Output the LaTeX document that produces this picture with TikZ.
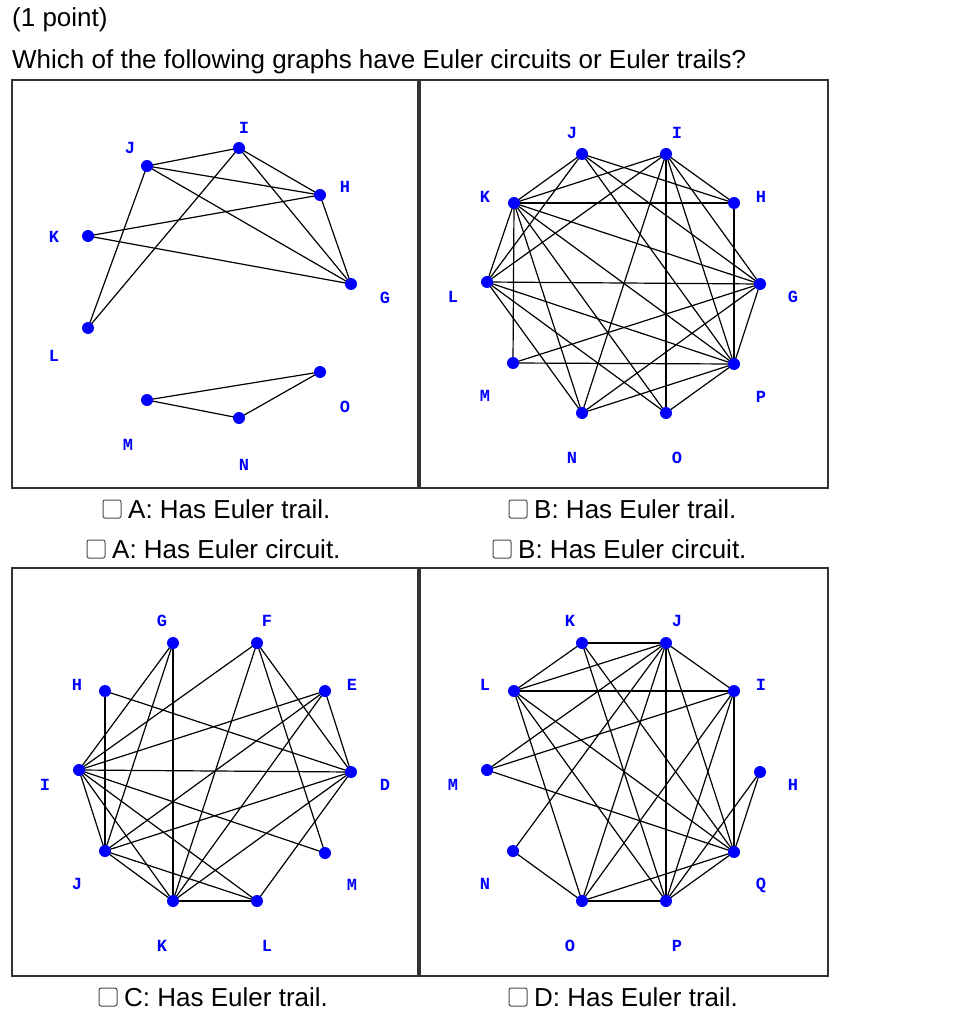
\documentclass[tikz,border=0pt]{standalone}
\usepackage{fontspec}
\setmainfont{Liberation Sans}
\newfontfamily\lblfont{Liberation Mono}
\def\dropfirst#1{}
\begin{document}
\begin{tikzpicture}[x=1pt,y=-1pt,
  vtx/.style={circle,fill=blue,inner sep=0pt,minimum size=12pt},
  lbl/.style={text=blue,font=\lblfont\bfseries\fontsize{17}{17}\selectfont,inner sep=0pt},
  edge/.style={line width=1.2pt,black},
  panel/.style={draw=black!80,line width=1.5pt},
  cbox/.style={draw=black!70,fill=white,rounded corners=2pt,minimum size=18pt,inner sep=0pt,line width=1pt},
  ctext/.style={anchor=west,font=\fontsize{26}{26}\selectfont,inner sep=0pt}]
\useasboundingbox (0,0) rectangle (963,1024);
\fill[white] (0,0) rectangle (963,1024);
\node[anchor=west,font=\fontsize{26}{26}\selectfont,inner sep=0pt] (t1) at (12,20) {(1 point)};
\node[anchor=west,font=\fontsize{26}{26}\selectfont,inner sep=0pt] (t2) at (12,62) {Which of the following graphs have Euler circuits or Euler trails?};
\draw[panel] (12,80) rectangle (418,488);
\draw[panel] (420,80) rectangle (828,488);
\draw[panel] (12,568) rectangle (418,976);
\draw[panel] (420,568) rectangle (828,976);
% Panel A
\foreach \n/\x/\y/\lx/\ly in {aI/239/148/244/128, aJ/147/166/130/148, aH/320/195/345/187, aK/88/236/54/237, aG/351/284/385/298, aL/88/328/54/356, aO/320/372/345/407, aM/147/400/128/445, aN/239/418/244/465}
  { \coordinate (\n) at (\x,\y); \node[lbl] (\n l) at (\lx,\ly) {\expandafter\dropfirst\n}; }
% Panel B
\foreach \n/\x/\y/\lx/\ly in {bJ/582/154/572/133, bI/666/154/677/133, bH/734/203/761/197, bG/760/284/793/297, bP/734/364/761/397, bO/666/413/677/458, bN/582/413/572/458, bM/513/363/485/396, bL/487/282/453/297, bK/514/203/485/197}
  { \coordinate (\n) at (\x,\y); \node[lbl] (\n l) at (\lx,\ly) {\expandafter\dropfirst\n}; }
% Panel C
\foreach \n/\x/\y/\lx/\ly in {cG/173/643/162/621, cF/257/643/267/621, cE/325/691/352/685, cD/351/772/385/785, cM/325/853/352/885, cL/257/901/267/946, cK/173/901/162/946, cJ/105/851/77/884, cI/79/770/45/785, cH/105/691/77/685}
  { \coordinate (\n) at (\x,\y); \node[lbl] (\n l) at (\lx,\ly) {\expandafter\dropfirst\n}; }
% Panel D
\foreach \n/\x/\y/\lx/\ly in {dK/582/643/570/621, dJ/666/643/677/621, dI/734/691/761/685, dH/760/772/793/785, dQ/734/852/761/885, dP/666/901/677/946, dO/582/901/570/946, dN/513/851/485/884, dM/487/770/453/785, dL/514/691/485/685}
  { \coordinate (\n) at (\x,\y); \node[lbl] (\n l) at (\lx,\ly) {\expandafter\dropfirst\n}; }
% edges
\foreach \a/\b in {J/I,J/H,J/G,J/L,I/H,I/G,I/L,H/K,H/G,K/G,M/O,M/N,N/O}
  \draw[edge] (a\a) -- (a\b);
\foreach \a/\b in {K/H,H/P,K/M,L/G,M/P,I/O,K/J,K/I,K/L,K/G,K/P,K/N,K/O,J/L,J/H,J/G,J/P,I/L,I/H,I/N,I/G,I/P,L/P,L/N,L/O,G/M,G/N,G/P,P/N,P/O}
  \draw[edge] (b\a) -- (b\b);
\foreach \a/\b in {H/J,G/K,I/D,K/L,H/D,G/I,G/J,F/I,F/K,F/D,F/M,E/I,E/J,E/K,E/D,I/J,I/K,I/L,I/M,J/D,J/K,J/L,D/K,D/L}
  \draw[edge] (c\a) -- (c\b);
\foreach \a/\b in {K/J,L/I,J/P,I/Q,O/P,K/L,K/P,K/Q,J/L,J/M,J/O,J/I,J/Q,J/N,L/Q,L/P,L/O,M/I,M/Q,I/O,I/P,H/Q,H/P,Q/O,Q/P,N/O}
  \draw[edge] (d\a) -- (d\b);
\foreach \n in {aI,aJ,aH,aK,aG,aL,aO,aM,aN,bJ,bI,bH,bG,bP,bO,bN,bM,bL,bK,cG,cF,cE,cD,cM,cL,cK,cJ,cI,cH,dK,dJ,dI,dH,dQ,dP,dO,dN,dM,dL}
  \node[vtx] (\n v) at (\n) {};
% checkboxes
\node[cbox] (c1) at (112,509) {}; \node[ctext] (c1t) at (128,509) {A: Has Euler trail.};
\node[cbox] (c2) at (96,549) {}; \node[ctext] (c2t) at (112,549) {A: Has Euler circuit.};
\node[cbox] (c3) at (518,509) {}; \node[ctext] (c3t) at (534,509) {B: Has Euler trail.};
\node[cbox] (c4) at (502,549) {}; \node[ctext] (c4t) at (518,549) {B: Has Euler circuit.};
\node[cbox] (c5) at (108,997) {}; \node[ctext] (c5t) at (124,997) {C: Has Euler trail.};
\node[cbox] (c6) at (518,997) {}; \node[ctext] (c6t) at (534,997) {D: Has Euler trail.};
\end{tikzpicture}
\end{document}
